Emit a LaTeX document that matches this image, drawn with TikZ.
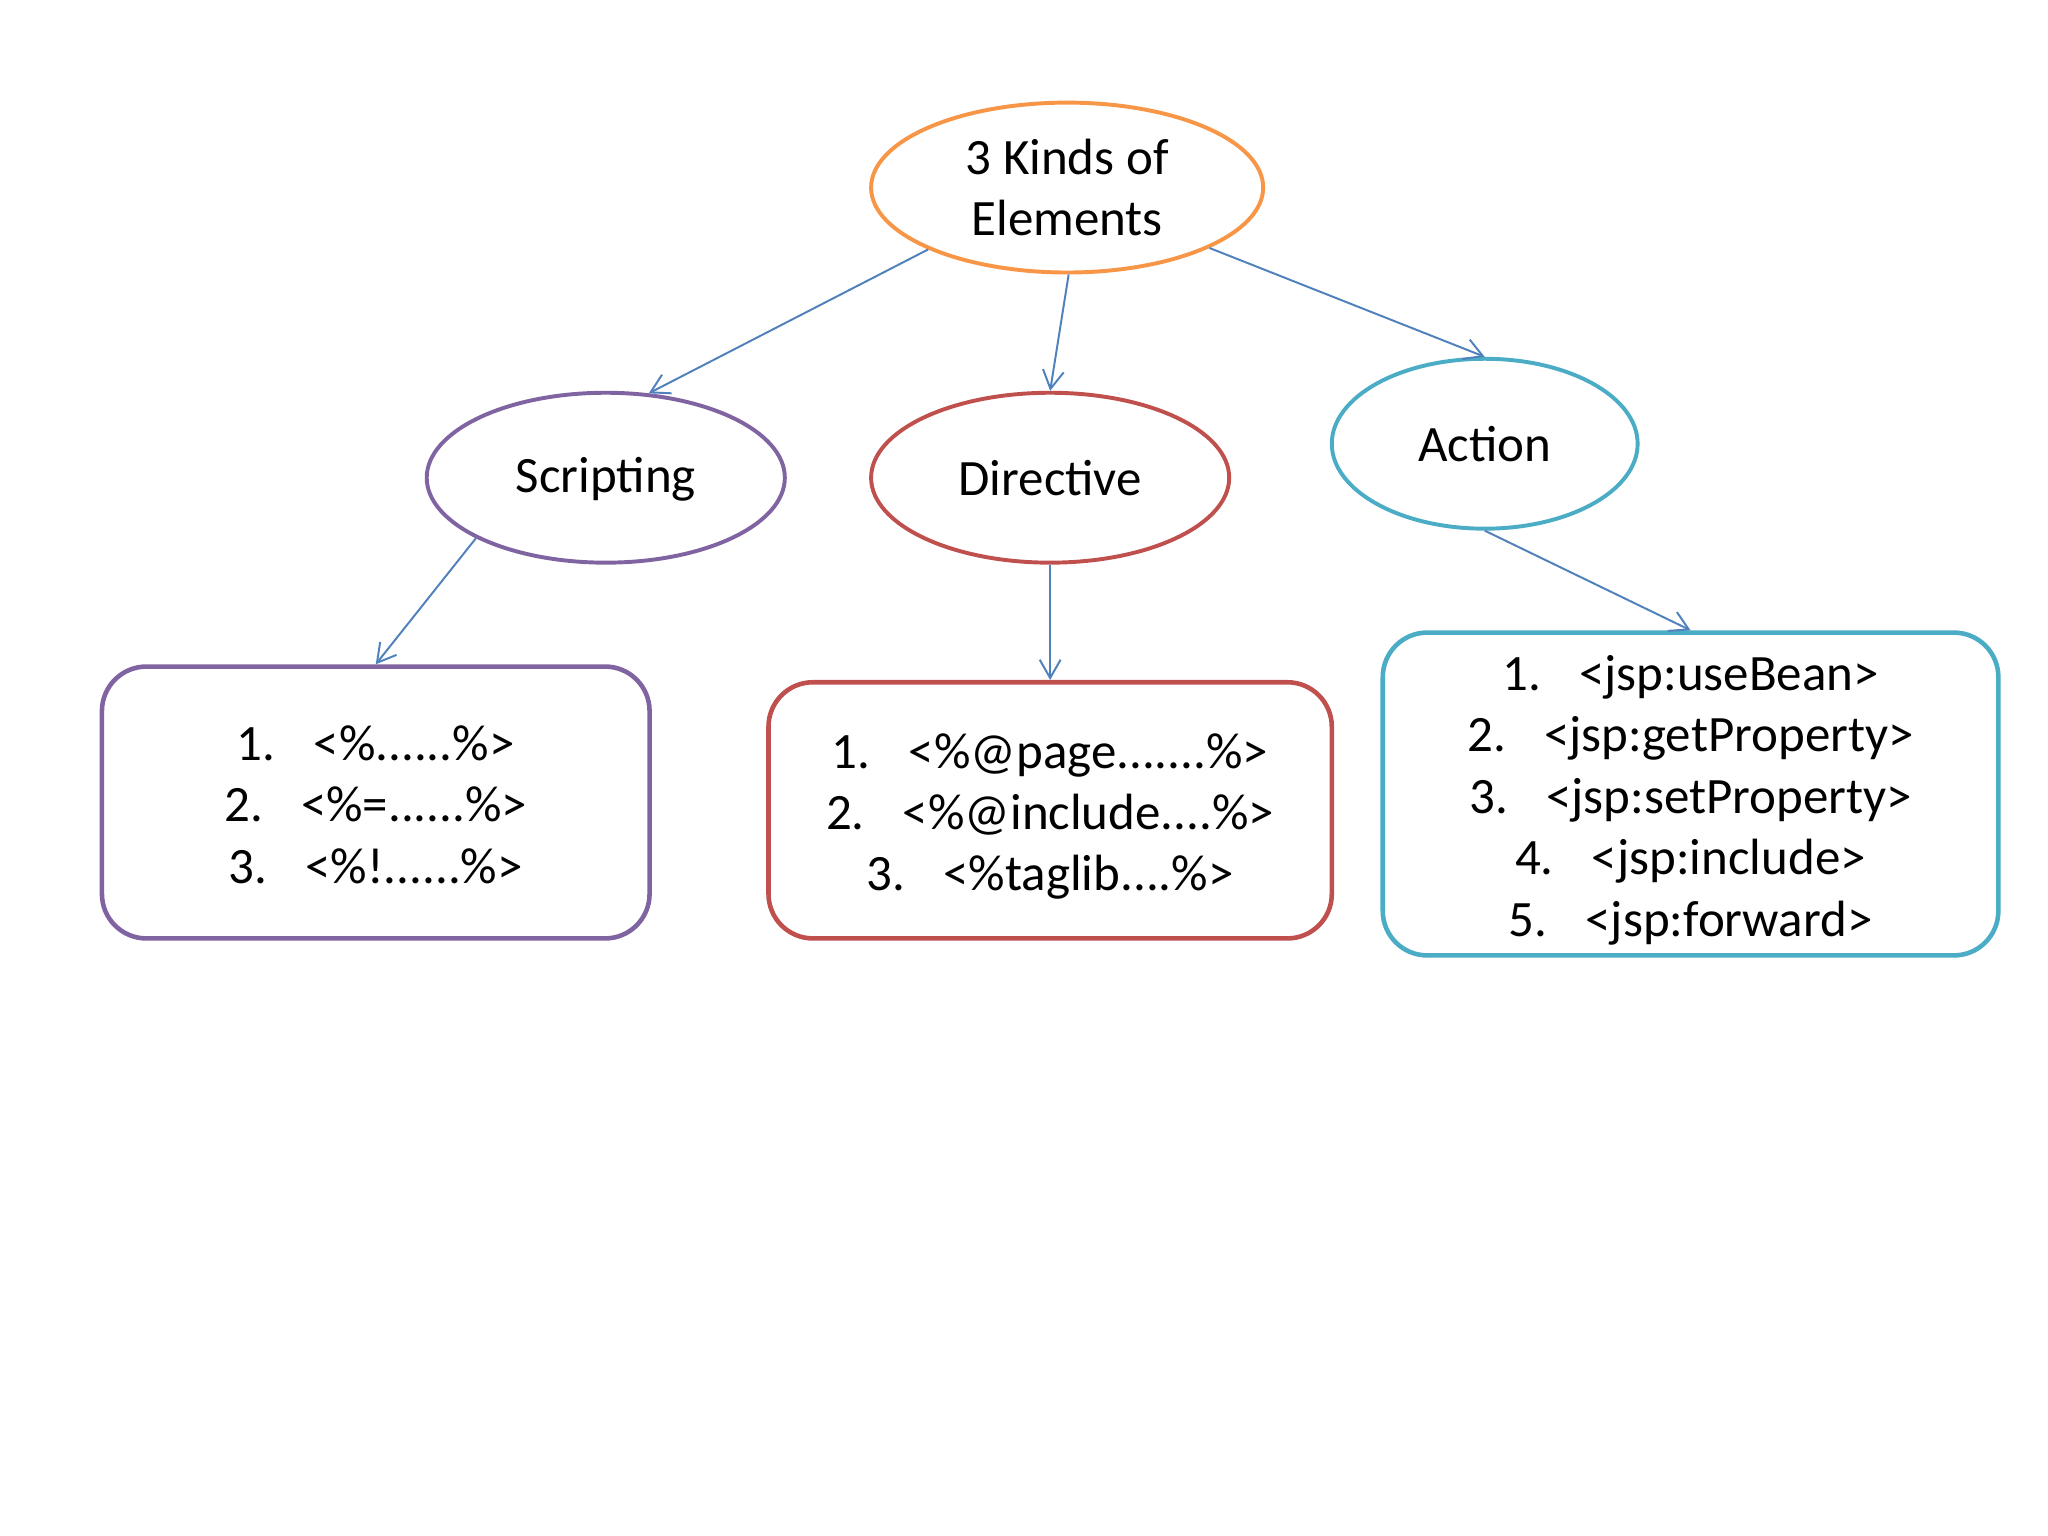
\documentclass[tikz,border=0pt]{standalone}
\usepackage{fontspec}
\setmainfont{Carlito}
\usetikzlibrary{shapes.geometric,arrows.meta}
\definecolor{corange}{HTML}{F79646}
\definecolor{cpurple}{HTML}{8064A2}
\definecolor{cred}{HTML}{C0504D}
\definecolor{ccyan}{HTML}{4BACC6}
\definecolor{cblue}{HTML}{4F81BD}
\begin{document}
\begin{tikzpicture}[x=0.5pt,y=-0.5pt,
  every node/.style={font=\fontsize{19.5pt}{23.5pt}\selectfont},
  oval/.style={ellipse,draw,line width=1.5pt,inner sep=0pt,align=center,fill=white},
  listbox/.style={rectangle,rounded corners=17pt,draw,line width=1.75pt,inner sep=0pt,align=center,fill=white},
  conn/.style={draw=cblue,line width=0.75pt,-{Straight Barb[length=7pt,width=8pt]}}]
\useasboundingbox[fill=white] (0,0) rectangle (1567,1175);
% ellipses
\node[oval,draw=corange,minimum width=150pt,minimum height=65pt] (top) at (816.5,143.5) {3 Kinds of\\Elements};
\node[oval,draw=cpurple,minimum width=137pt,minimum height=65pt] (scr) at (463.5,365.5) {\rule{0pt}{15pt}Scripting};
\node[oval,draw=cred,minimum width=137pt,minimum height=65pt] (dir) at (803.5,365.5) {Directive};
\node[oval,draw=ccyan,minimum width=117pt,minimum height=65pt] (act) at (1136,339.5) {Action};
% boxes
\node[listbox,draw=cpurple,minimum width=209.5pt,minimum height=104pt] (sbox) at (287.5,614)
  {\rule{0pt}{15pt}1.\hspace{0.75em}<\%......\%>\\2.\hspace{0.75em}<\%=......\%>\\3.\hspace{0.75em}<\%!......\%>};
\node[listbox,draw=cred,minimum width=215.5pt,minimum height=98pt] (dbox) at (803.5,620)
  {\rule{0pt}{18pt}1.\hspace{0.75em}<\%@page.......\%>\\2.\hspace{0.75em}<\%@include....\%>\\3.\hspace{0.75em}<\%taglib....\%>};
\node[listbox,draw=ccyan,minimum width=235.5pt,minimum height=123.5pt] (abox) at (1293.5,607.5)
  {\rule{0pt}{18pt}1.\hspace{0.75em}<jsp:useBean>\\2.\hspace{0.75em}<jsp:getProperty>\\3.\hspace{0.75em}<jsp:setProperty>\\4.\hspace{0.75em}<jsp:include>\\5.\hspace{0.75em}<jsp:forward>};
% connectors
\draw[conn] (top.204) -- (scr.63);
\draw[conn] (top.271) -- (dir.north);
\draw[conn] (top.-23) -- (act.north);
\draw[conn] (scr.205) -- (sbox.north);
\draw[conn] (dir.south) -- (dbox.north);
\draw[conn] (act.south) -- (abox.north);
\end{tikzpicture}
\end{document}
